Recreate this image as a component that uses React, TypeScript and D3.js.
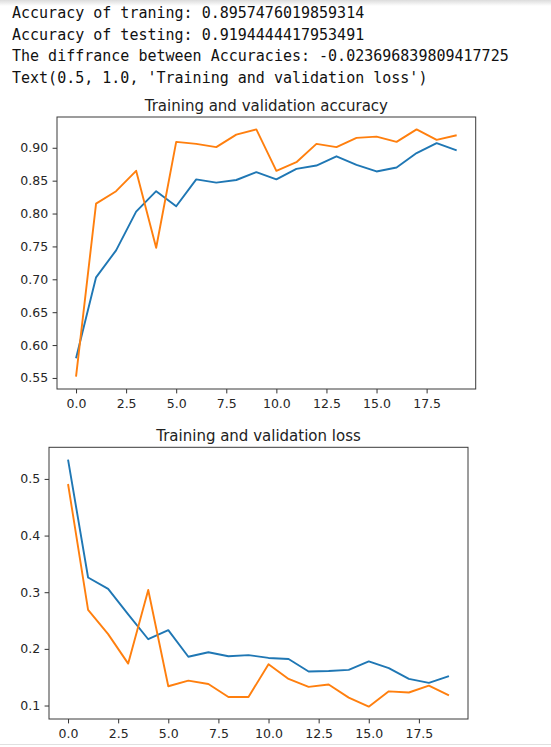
import { useRef, useEffect } from 'react'
import * as d3 from 'd3'

// printed notebook output above the figure
const outputLines = [
  'Accuracy of traning: 0.8957476019859314',
  'Accuracy of testing: 0.9194444417953491',
  'The diffrance between Accuracies: -0.023696839809417725',
  "Text(0.5, 1.0, 'Training and validation loss')",
]

const epochs = [0, 1, 2, 3, 4, 5, 6, 7, 8, 9, 10, 11, 12, 13, 14, 15, 16, 17, 18, 19]
const xTicks = [0, 2.5, 5, 7.5, 10, 12.5, 15, 17.5]

const trainAcc = [0.58, 0.703, 0.744, 0.803, 0.834, 0.811, 0.852, 0.847, 0.851, 0.863, 0.852, 0.868, 0.873, 0.887, 0.874, 0.864, 0.87, 0.892, 0.907, 0.896]
const valAcc = [0.552, 0.815, 0.834, 0.865, 0.748, 0.909, 0.906, 0.901, 0.92, 0.928, 0.865, 0.878, 0.906, 0.901, 0.915, 0.917, 0.909, 0.928, 0.912, 0.919]
const accTicks = [0.55, 0.6, 0.65, 0.7, 0.75, 0.8, 0.85, 0.9]

const trainLoss = [0.534, 0.326, 0.306, 0.261, 0.217, 0.233, 0.186, 0.194, 0.187, 0.189, 0.184, 0.182, 0.16, 0.161, 0.163, 0.178, 0.166, 0.147, 0.14, 0.152]
const valLoss = [0.491, 0.269, 0.226, 0.174, 0.304, 0.134, 0.144, 0.138, 0.115, 0.115, 0.173, 0.147, 0.133, 0.137, 0.114, 0.098, 0.125, 0.123, 0.135, 0.118]
const lossTicks = [0.1, 0.2, 0.3, 0.4, 0.5]

const BLUE = '#1f77b4'
const ORANGE = '#ff7f0e'
const TICK_FONT = '"DejaVu Sans", sans-serif'

interface Panel {
  title: string
  box: { left: number; top: number; right: number; bottom: number }
  train: number[]
  val: number[]
  yTicks: number[]
  yFormat: string
}

function withMargin(values: number[]): [number, number] {
  const [lo, hi] = d3.extent(values) as [number, number]
  const m = (hi - lo) * 0.05
  return [lo - m, hi + m]
}

function drawPanel(svg: d3.Selection<SVGSVGElement, unknown, null, undefined>, p: Panel) {
  const { left, top, right, bottom } = p.box
  const x = d3.scaleLinear().domain(withMargin(epochs)).range([left, right])
  const y = d3.scaleLinear().domain(withMargin([...p.train, ...p.val])).range([bottom, top])

  const g = svg.append('g')

  const xAxis = d3.axisBottom(x).tickValues(xTicks).tickFormat(d3.format('.1f') as any).tickSize(4.4).tickPadding(4.4)
  const yAxis = d3.axisLeft(y).tickValues(p.yTicks).tickFormat(d3.format(p.yFormat) as any).tickSize(4.4).tickPadding(4.4)

  g.append('g')
    .attr('transform', `translate(0,${bottom})`)
    .call(xAxis)
    .call((a) => a.select('.domain').remove())
    .call((a) => a.selectAll('.tick line').attr('stroke', '#333').attr('stroke-width', 1))
    .call((a) => a.selectAll('.tick text').attr('fill', '#262626').attr('font-size', 12.5).attr('font-family', TICK_FONT).attr('dy', '0.8em'))

  g.append('g')
    .attr('transform', `translate(${left},0)`)
    .call(yAxis)
    .call((a) => a.select('.domain').remove())
    .call((a) => a.selectAll('.tick line').attr('stroke', '#333').attr('stroke-width', 1))
    .call((a) => a.selectAll('.tick text').attr('fill', '#262626').attr('font-size', 12.5).attr('font-family', TICK_FONT))

  const line = d3
    .line<number>()
    .x((_, i) => x(epochs[i]))
    .y((d) => y(d))

  g.append('path').attr('d', line(p.train)).attr('fill', 'none').attr('stroke', BLUE).attr('stroke-width', 1.9).attr('stroke-linejoin', 'round')
  g.append('path').attr('d', line(p.val)).attr('fill', 'none').attr('stroke', ORANGE).attr('stroke-width', 1.9).attr('stroke-linejoin', 'round')

  // axes frame
  g.append('rect')
    .attr('x', left).attr('y', top)
    .attr('width', right - left).attr('height', bottom - top)
    .attr('fill', 'none').attr('stroke', '#3a3a3a').attr('stroke-width', 1)

  g.append('text')
    .attr('x', (left + right) / 2)
    .attr('y', top - 6.5)
    .attr('text-anchor', 'middle')
    .attr('font-family', TICK_FONT)
    .attr('font-size', 15)
    .attr('fill', '#222')
    .text(p.title)
}

export default function App() {
  const svgRef = useRef<SVGSVGElement>(null)

  useEffect(() => {
    if (!svgRef.current) return
    const svg = d3.select(svgRef.current)
    svg.selectAll('*').remove()

    // top shadow of the notebook area
    const defs = svg.append('defs')
    const grad = defs.append('linearGradient').attr('id', 'topShade').attr('x1', 0).attr('x2', 0).attr('y1', 0).attr('y2', 1)
    grad.append('stop').attr('offset', '0%').attr('stop-color', '#dcdcdc')
    grad.append('stop').attr('offset', '100%').attr('stop-color', '#ffffff')
    svg.append('rect').attr('x', 0).attr('y', 0).attr('width', 551).attr('height', 6).attr('fill', 'url(#topShade)')

    svg.append('g')
      .selectAll('text')
      .data(outputLines)
      .join('text')
      .attr('x', 12)
      .attr('y', (_, i) => 18.3 + i * 21.5)
      .attr('font-family', '"DejaVu Sans Mono", monospace')
      .attr('font-size', 15)
      .attr('fill', '#111')
      .style('white-space', 'pre')
      .text((d) => d)

    drawPanel(svg, {
      title: 'Training and validation accuracy',
      box: { left: 57, top: 117, right: 475.7, bottom: 389 },
      train: trainAcc,
      val: valAcc,
      yTicks: accTicks,
      yFormat: '.2f',
    })

    drawPanel(svg, {
      title: 'Training and validation loss',
      box: { left: 49, top: 447.3, right: 468, bottom: 719 },
      train: trainLoss,
      val: valLoss,
      yTicks: lossTicks,
      yFormat: '.1f',
    })

    svg.append('line').attr('x1', 0).attr('x2', 551).attr('y1', 744.5).attr('y2', 744.5).attr('stroke', '#e0e0e0').attr('stroke-width', 1)
  }, [])

  return (
    <div style={{ position: 'absolute', left: 0, top: 0 }}>
      <svg ref={svgRef} width={551} height={747} style={{ display: 'block', background: '#fff' }} />
    </div>
  )
}
